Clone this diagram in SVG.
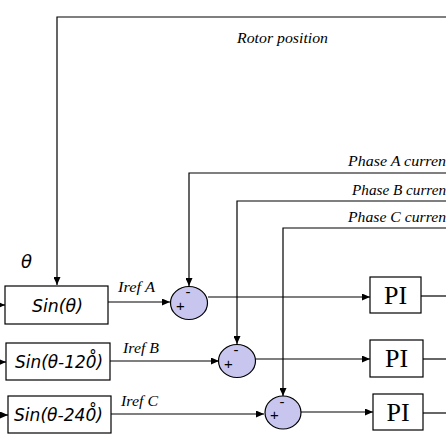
<svg xmlns="http://www.w3.org/2000/svg" width="446" height="446" viewBox="0 0 446 446">
<style>
.ln{fill:none;stroke:#000;stroke-width:1.2}
.box{fill:#fff;stroke:#000;stroke-width:1.2}
.sum{fill:#c8c6ee;stroke:#000;stroke-width:1.2}
.lbl{font-family:"Liberation Serif",serif;font-style:italic;font-size:15px;fill:#000}
.sin{font-family:"DejaVu Sans","Liberation Sans",sans-serif;font-style:italic;font-size:18px;fill:#000}
.pi{font-family:"Liberation Serif",serif;font-size:26px;fill:#000}
.sg{font-family:"Liberation Sans",sans-serif;font-size:15px;fill:#000}
</style>
<defs>
<marker id="ah" markerUnits="userSpaceOnUse" markerWidth="9" markerHeight="7" refX="8" refY="3.5" orient="auto">
<path d="M0,0 L8,3.5 L0,7 z" fill="#000"/>
</marker>
</defs>
<rect width="446" height="446" fill="#fff"/>
<g id="connectors">
<polyline class="ln" points="446,17 57,17 57,285" marker-end="url(#ah)"/>
<polyline class="ln" points="446,173 189,173 189,286" marker-end="url(#ah)"/>
<polyline class="ln" points="446,201 237,201 237,344" marker-end="url(#ah)"/>
<polyline class="ln" points="446,228 283,228 283,396" marker-end="url(#ah)"/>
<line class="ln" x1="108" y1="302" x2="170" y2="302" marker-end="url(#ah)"/>
<line class="ln" x1="110" y1="361" x2="219" y2="361" marker-end="url(#ah)"/>
<line class="ln" x1="111" y1="414" x2="264" y2="414" marker-end="url(#ah)"/>
<line class="ln" x1="208" y1="297" x2="370" y2="297" marker-end="url(#ah)"/>
<line class="ln" x1="256" y1="359" x2="370" y2="359" marker-end="url(#ah)"/>
<line class="ln" x1="301" y1="412" x2="373" y2="412" marker-end="url(#ah)"/>
<line class="ln" x1="421" y1="296" x2="446" y2="296"/>
<line class="ln" x1="423" y1="359" x2="446" y2="359"/>
<line class="ln" x1="423" y1="413" x2="446" y2="413"/>
<line class="ln" x1="-4" y1="305" x2="5" y2="305" marker-end="url(#ah)"/>
<line class="ln" x1="-4" y1="362" x2="6" y2="362" marker-end="url(#ah)"/>
<line class="ln" x1="-4" y1="415" x2="8" y2="415" marker-end="url(#ah)"/>
<text class="lbl" x="237" y="43" textLength="91" lengthAdjust="spacingAndGlyphs">Rotor position</text>
<text class="lbl" x="348" y="166" textLength="98" lengthAdjust="spacingAndGlyphs">Phase A curren</text>
<text class="lbl" x="352" y="195" textLength="94" lengthAdjust="spacingAndGlyphs">Phase B curren</text>
<text class="lbl" x="348" y="222" textLength="98" lengthAdjust="spacingAndGlyphs">Phase C curren</text>
<text class="lbl" x="118" y="292" textLength="37" lengthAdjust="spacingAndGlyphs">Iref A</text>
<text class="lbl" x="123" y="353" textLength="36" lengthAdjust="spacingAndGlyphs">Iref B</text>
<text class="lbl" x="121" y="406" textLength="37" lengthAdjust="spacingAndGlyphs">Iref C</text>
</g>
<g id="theta"><text class="sin" x="21" y="268" font-size="22">θ</text></g>
<g id="sin0"><rect class="box" x="5" y="286" width="103" height="38"/><text class="sin" x="32" y="312" textLength="51" lengthAdjust="spacingAndGlyphs">Sin(θ)</text></g>
<g id="sin120"><rect class="box" x="6" y="343" width="104" height="37"/><text class="sin" x="15" y="368" textLength="88" lengthAdjust="spacingAndGlyphs">Sin(θ-120̊)</text></g>
<g id="sin240"><rect class="box" x="8" y="396" width="103" height="37"/><text class="sin" x="14" y="421" textLength="89" lengthAdjust="spacingAndGlyphs">Sin(θ-240̊)</text></g>
<g id="sumA"><ellipse class="sum" cx="189" cy="303" rx="18.5" ry="16.5"/><text class="sg" x="185.5" y="297">-</text><text class="sg" x="176" y="311">+</text></g>
<g id="sumB"><ellipse class="sum" cx="237" cy="361" rx="18.5" ry="16.5"/><text class="sg" x="233.5" y="355">-</text><text class="sg" x="224" y="369">+</text></g>
<g id="sumC"><ellipse class="sum" cx="283" cy="412.5" rx="18" ry="16.5"/><text class="sg" x="279.5" y="407">-</text><text class="sg" x="270" y="420">+</text></g>
<g id="piA"><rect class="box" x="370" y="277" width="51" height="36"/><text class="pi" x="395.5" y="304" text-anchor="middle">PI</text></g>
<g id="piB"><rect class="box" x="370" y="340" width="53" height="37"/><text class="pi" x="396.5" y="367" text-anchor="middle">PI</text></g>
<g id="piC"><rect class="box" x="373" y="394" width="50" height="36"/><text class="pi" x="398" y="421" text-anchor="middle">PI</text></g>
</svg>
